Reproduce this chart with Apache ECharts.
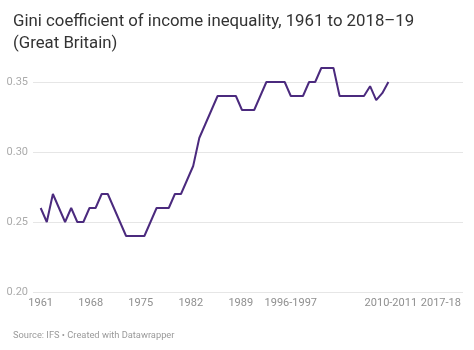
<!DOCTYPE html>
<html>
<head>
<meta charset="utf-8">
<script src="https://cdn.jsdelivr.net/npm/echarts@6/dist/echarts.min.js"></script>
<style>
html,body{margin:0;padding:0;background:#fff;}
#chart{width:474px;height:350px;}
</style>
</head>
<body>
<div id="chart"></div>
<script>
// Periods (rows of the data table)
const categories = [
  "1961","1962","1963","1964","1965","1966","1967","1968","1969","1970",
  "1971","1972","1973","1974","1975","1976","1977","1978","1979","1980",
  "1981","1982","1983","1984","1985","1986","1987","1988","1989","1990",
  "1991","1992","1993-94","1994-95","1995-96","1996-97","1997-98","1998-99","1999-00","2000-01",
  "2001-02","2002-03","2003-04","2004-05","2005-06","2006-07","2007-08","2008-09","2009-10","2010-11",
  "2011-12","2012-13","2013-14","2014-15","2015-16","2016-17","2017-18","2018-19"
];
// Gini coefficient values
const gini = [
  0.26,0.25,0.27,0.26,0.25,0.26,0.25,0.25,0.26,0.26,
  0.27,0.27,0.26,0.25,0.24,0.24,0.24,0.24,0.25,0.26,
  0.26,0.26,0.27,0.27,0.28,0.29,0.31,0.32,0.33,0.34,
  0.34,0.34,0.34,0.33,0.33,0.33,0.34,0.35,0.35,0.35,
  0.35,0.34,0.34,0.34,0.35,0.35,0.36,0.36,0.36,0.34,
  0.34,0.34,0.34,0.34,0.347,0.337,0.342,0.35
];
// X axis tick labels as shown on the chart (one slot left blank)
const xTickLabels = ["1961","1968","1975","1982","1989","1996-1997","","2010-2011","2017-18"];
// Y axis ticks
const yTicks = [0.20, 0.25, 0.30, 0.35];

const labelStep = 8.2; // spacing of tick labels in row units
const labelPositions = xTickLabels.map((t, k) => k * labelStep).filter((p, k) => xTickLabels[k] !== "");

const seriesData = gini.map((v, i) => [i, v]);

const chart = echarts.init(document.getElementById('chart'), null, {renderer: 'canvas'});
chart.setOption({
  animation: false,
  backgroundColor: '#ffffff',
  title: [{
    text: 'Gini coefficient of income inequality, 1961 to 2018\u201319\n(Great Britain)',
    left: 8, top: 6,
    textStyle: {fontFamily: 'Roboto', fontSize: 16.8, fontWeight: 'normal', color: '#333333', lineHeight: 22}
  }, {
    text: 'Source: IFS \u2022 Created with Datawrapper',
    left: 8, top: 326,
    textStyle: {fontFamily: 'Roboto', fontSize: 9.3, fontWeight: 'normal', color: '#9a9a9a'}
  }],
  grid: {left: 33, right: 11, top: 82, bottom: 58, containLabel: false},
  xAxis: {
    type: 'value',
    min: -1.26, max: 69.23,
    axisLine: {show: false},
    axisTick: {show: false},
    splitLine: {show: false},
    axisLabel: {
      customValues: labelPositions,
      formatter: v => xTickLabels[Math.round(v / labelStep)] || '',
      color: '#8f8f8f', fontFamily: 'Roboto', fontSize: 11, margin: 6
    }
  },
  yAxis: {
    type: 'value',
    min: yTicks[0], max: yTicks[yTicks.length - 1], interval: 0.05,
    axisLine: {show: false},
    axisTick: {show: false},
    splitLine: {lineStyle: {color: '#e6e6e6', width: 1}},
    axisLabel: {
      formatter: v => v.toFixed(2),
      color: '#ababab', fontFamily: 'Roboto', fontSize: 11, margin: 5
    }
  },
  series: [{
    type: 'line',
    data: seriesData,
    clip: false,
    symbol: 'none',
    lineStyle: {color: '#4b2a7e', width: 2},
    itemStyle: {color: '#4b2a7e'}
  }]
});
</script>
</body>
</html>
